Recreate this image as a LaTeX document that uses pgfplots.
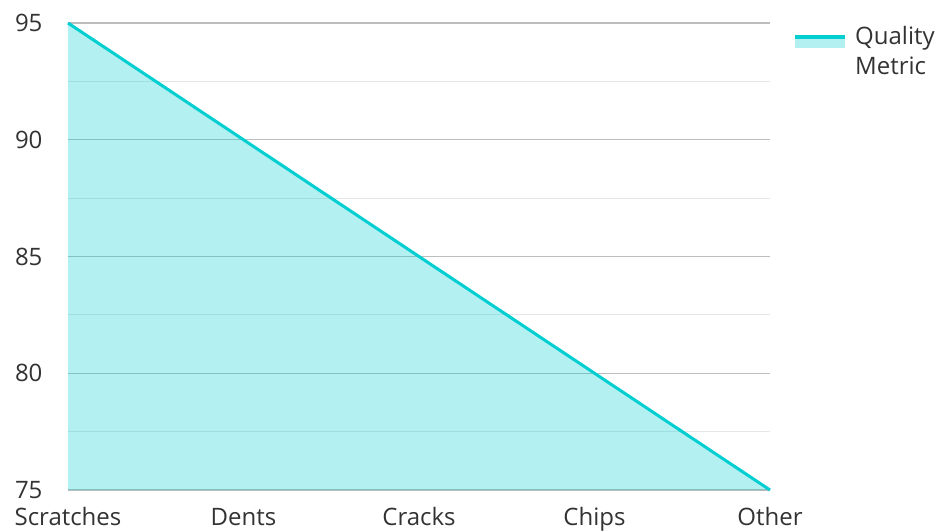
\documentclass[border=0pt]{standalone}
\usepackage{fontspec}
\setmainfont{Open Sans}
\usepackage{pgfplots}
\pgfplotsset{compat=1.18}
\definecolor{linecol}{HTML}{00CED1}
\definecolor{majgrid}{HTML}{BDBDBD}
\definecolor{mingrid}{HTML}{E6E6E6}
\definecolor{txt}{HTML}{333333}
\begin{document}
\begin{tikzpicture}[x=1pt,y=1pt]
\begin{axis}[
    name=ax,
    scale only axis,
    width=702pt, height=467pt,
    xmin=0, xmax=4, ymin=75, ymax=95,
    axis line style={draw=none},
    xtick={0,1,2,3,4},
    xticklabels={Scratches, Dents, Cracks, Chips, Other},
    ytick={75,80,85,90,95},
    minor ytick={77.5,82.5,87.5,92.5},
    ymajorgrids, yminorgrids,
    major grid style={majgrid, line width=1.2pt},
    minor grid style={mingrid, line width=1pt},
    major tick length=0pt, minor tick length=0pt,
    tick style={draw=none},
    /pgf/number format/assume math mode=true,
    tick label style={font=\fontsize{24}{29}\selectfont, text=txt},
    yticklabel style={anchor=east, xshift=-22pt},
    xticklabel style={anchor=base, inner sep=0pt, yshift=-35pt},
    clip=false,
]
\addplot[draw=none, fill=linecol, fill opacity=0.3] coordinates {(0,95) (1,90) (2,85) (3,80) (4,75)} \closedcycle;
\addplot[linecol, line width=3pt, mark=none] coordinates {(0,95) (1,90) (2,85) (3,80) (4,75)};
\end{axis}
% legend
\fill[linecol, fill opacity=0.3] (727pt,453pt) rectangle (777pt,442pt);
\draw[linecol, line width=3.5pt] (727pt,453pt) -- (777pt,453pt);
\node[anchor=base west, inner sep=0pt, text=txt, font=\fontsize{24}{29}\selectfont] at (787pt,445pt) {Quality};
\node[anchor=base west, inner sep=0pt, text=txt, font=\fontsize{24}{29}\selectfont] at (787pt,415pt) {Metric};
\pgfresetboundingbox
\path (-68pt,-41pt) rectangle (872pt,490pt);
\end{tikzpicture}
\end{document}
